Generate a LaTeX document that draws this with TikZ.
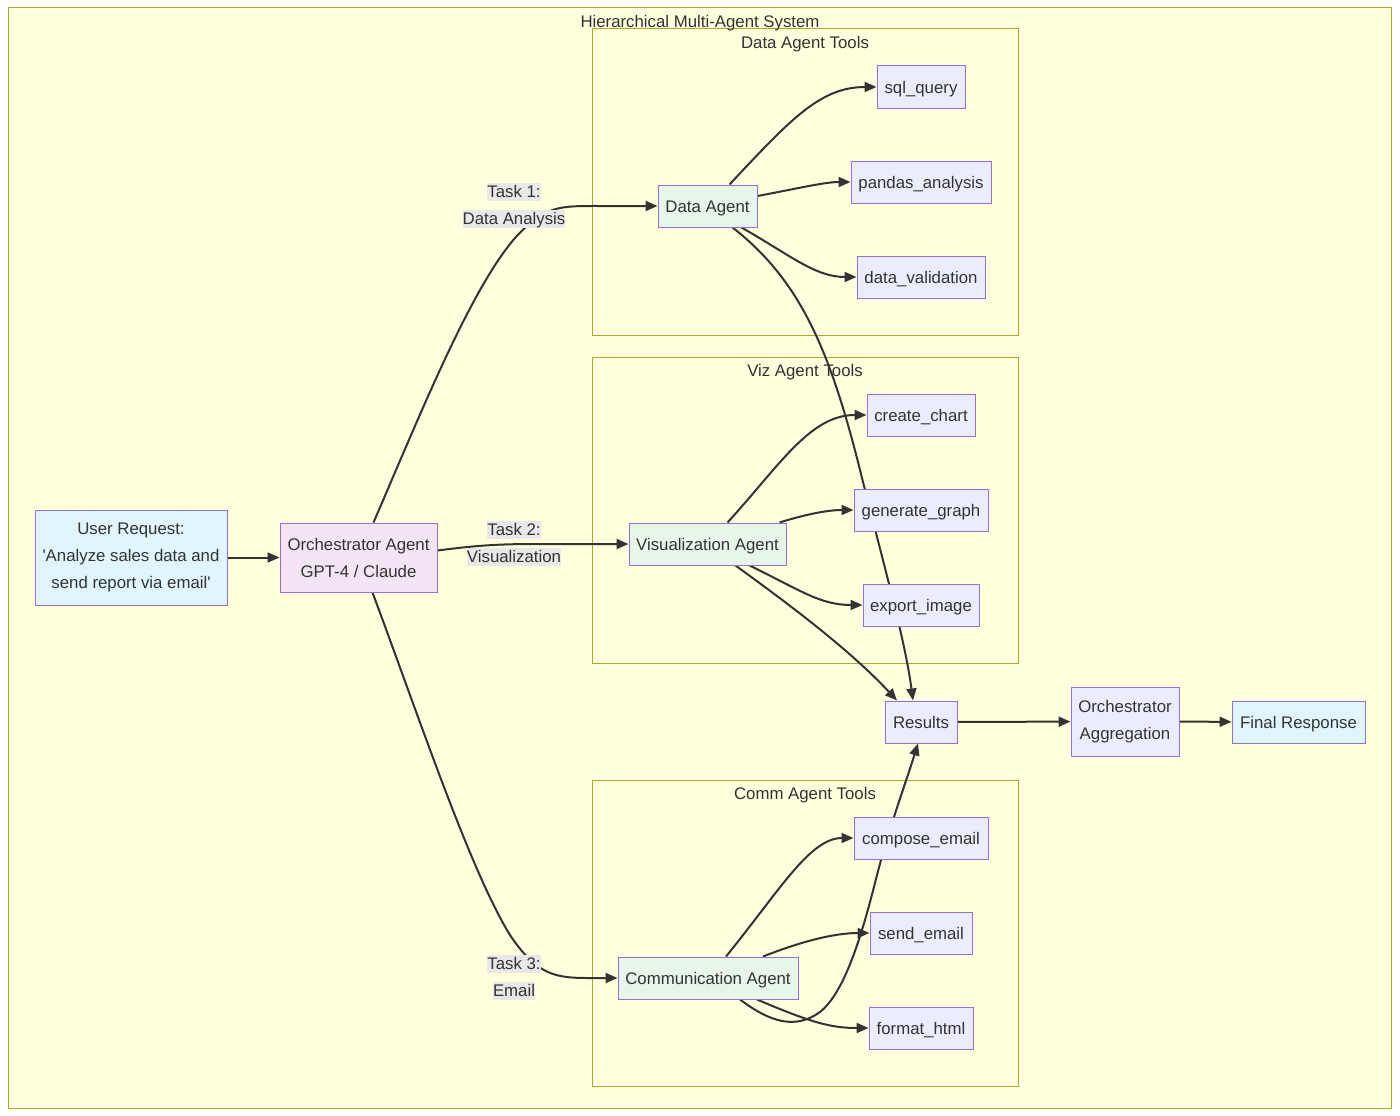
\documentclass[tikz,border=0pt]{standalone}
\usepackage{fontspec}
\setmainfont{Liberation Sans}
\usetikzlibrary{arrows.meta,calc}
\pgfdeclarelayer{bg}\pgfdeclarelayer{edges}
\pgfsetlayers{bg,edges,main}
\definecolor{bgY}{HTML}{FFFFDE}
\definecolor{frameC}{HTML}{AAAA33}
\definecolor{nodeB}{HTML}{9370DB}
\definecolor{toolF}{HTML}{ECECFF}
\definecolor{blueF}{HTML}{E1F5FE}
\definecolor{purpF}{HTML}{F3E5F5}
\definecolor{greenF}{HTML}{E8F5E9}
\definecolor{lineC}{HTML}{333333}
\definecolor{labF}{HTML}{E8E8E8}
\tikzset{
  txt/.style={font=\fontsize{16.8}{27}\selectfont, text=lineC},
  box/.style={txt, draw=nodeB, line width=1pt, minimum height=42pt, inner sep=0pt, align=center},
  one/.style={text height=12.3pt, text depth=0pt},
  tool/.style={box, fill=toolF},
  agent/.style={box, fill=greenF, one},
  bluebox/.style={box, fill=blueF},
  purpbox/.style={box, fill=purpF},
  cluster/.style={draw=frameC, line width=1pt, fill=bgY, inner sep=0pt},
  ctitle/.style={txt, inner sep=0pt, one},
  elab/.style={txt, fill=labF, inner xsep=0pt, inner ysep=0pt, text height=14.5pt, text depth=4pt},
  edge/.style={draw=lineC, line width=2pt, -{Triangle[length=12pt,width=10pt]}},
}
\begin{document}
\begin{tikzpicture}[x=1pt,y=-1pt]
\useasboundingbox (0,0) rectangle (1400,1116);
\begin{pgfonlayer}{bg}
\node[cluster, minimum width=1383pt, minimum height=1100pt] (outer) at (699.5,558) {};
\node[cluster, minimum width=426pt, minimum height=306pt] (c1) at (805,182) {};
\node[cluster, minimum width=426pt, minimum height=306pt] (c2) at (805,510) {};
\node[cluster, minimum width=426pt, minimum height=306pt] (c3) at (805,933) {};
\end{pgfonlayer}
\node[ctitle] (t0) at (700,21) {Hierarchical Multi-Agent System};
\node[ctitle] (t1) at (805,42) {Data Agent Tools};
\node[ctitle] (t2) at (805,370) {Viz Agent Tools};
\node[ctitle] (t3) at (805,793) {Comm Agent Tools};

\node[bluebox, minimum width=192pt, minimum height=95pt] (user) at (131,557.5) {User Request:\\\textquotesingle Analyze sales data and\\send report via email\textquotesingle};
\node[purpbox, minimum width=157pt, minimum height=69pt] (orch) at (358.5,557.5) {Orchestrator Agent\\GPT-4 / Claude};
\node[agent, minimum width=99pt] (da) at (707.5,206) {Data Agent};
\node[tool, one, minimum width=88pt] (sql) at (921,87) {sql\_query};
\node[tool, one, minimum width=140pt] (pandas) at (921,182) {pandas\_analysis};
\node[tool, one, minimum width=128pt] (dval) at (921,277) {data\_validation};
\node[tool, one, minimum width=108pt] (cchart) at (921,415) {create\_chart};
\node[tool, one, minimum width=134pt] (ggraph) at (921,510) {generate\_graph};
\node[tool, one, minimum width=116pt] (eimg) at (921,605) {export\_image};
\node[agent, minimum width=157pt] (va) at (707.5,544) {Visualization Agent};
\node[tool, one, minimum width=72pt] (res) at (921,722) {Results};
\node[tool, minimum width=108pt, minimum height=69pt] (oa) at (1125,721.5) {Orchestrator\\Aggregation};
\node[bluebox, one, minimum width=133pt] (fr) at (1298.5,722) {Final Response};
\node[tool, one, minimum width=134pt] (comp) at (921,838) {compose\_email};
\node[tool, one, minimum width=102pt] (send) at (921,933) {send\_email};
\node[agent, minimum width=180pt] (ca) at (708,978) {Communication Agent};
\node[tool, one, minimum width=104pt] (fhtml) at (921,1028) {format\_html};

\begin{pgfonlayer}{edges}
\draw[edge] (user) -- (orch);
\draw[edge] ($(orch.north)+(15,0)$) .. controls (420,415) and (470,290) .. (515,238) .. controls (545,205) and (560,206) .. (600,206) -- (da.west);
\draw[edge] ($(orch.east)+(0,-7)$) .. controls (480,545) and (500,544) .. (540,544) -- (va.west);
\draw[edge] ($(orch.south)+(14,0)$) .. controls (420,720) and (470,870) .. (510,935) .. controls (540,980) and (560,978) .. (600,978) -- (ca.west);
\draw[edge] ($(da.north)+(22,0)$) .. controls (790,120) and (820,87) .. (sql.west);
\draw[edge] ($(da.east)+(0,-10)$) .. controls (800,188) and (825,182) .. (pandas.west);
\draw[edge] ($(da.south)+(34,0)$) .. controls (790,255) and (815,277) .. (dval.west);
\draw[edge] ($(da.south)+(25,0)$) .. controls (800,280) and (830,350) .. (860,470) .. controls (885,570) and (905,640) .. ($(res.north)+(-8,0)$);
\draw[edge] ($(va.north)+(20,0)$) .. controls (780,465) and (810,415) .. (cchart.west);
\draw[edge] ($(va.north)+(72,0)$) .. controls (810,513) and (830,510) .. (ggraph.west);
\draw[edge] ($(va.south)+(42,0)$) .. controls (800,590) and (820,605) .. (eimg.west);
\draw[edge] ($(va.south)+(28,0)$) .. controls (790,605) and (850,650) .. ($(res.north)+(-24,0)$);
\draw[edge] ($(ca.north)+(18,0)$) .. controls (780,890) and (810,838) .. (comp.west);
\draw[edge] ($(ca.north)+(55,0)$) .. controls (810,938) and (840,933) .. (send.west);
\draw[edge] ($(ca.south)+(49,0)$) .. controls (810,1022) and (830,1028) .. (fhtml.west);
\draw[edge] ($(ca.south)+(32,0)$) .. controls (770,1022) and (795,1030) .. (820,1012) .. controls (845,992) and (862,935) .. (877,875) .. controls (890,825) and (905,785) .. ($(res.south)+(-3,0)$);
\draw[edge] (res) -- (oa);
\draw[edge] (oa) -- (fr);
\end{pgfonlayer}

\node[elab] (l1a) at (514,192) {Task 1:};
\node[elab] (l1b) at (514,219) {Data Analysis};
\node[elab] (l2a) at (514,530) {Task 2:};
\node[elab] (l2b) at (514,557) {Visualization};
\node[elab] (l3a) at (514,964) {Task 3:};
\node[elab] (l3b) at (514,991) {Email};
\end{tikzpicture}
\end{document}
